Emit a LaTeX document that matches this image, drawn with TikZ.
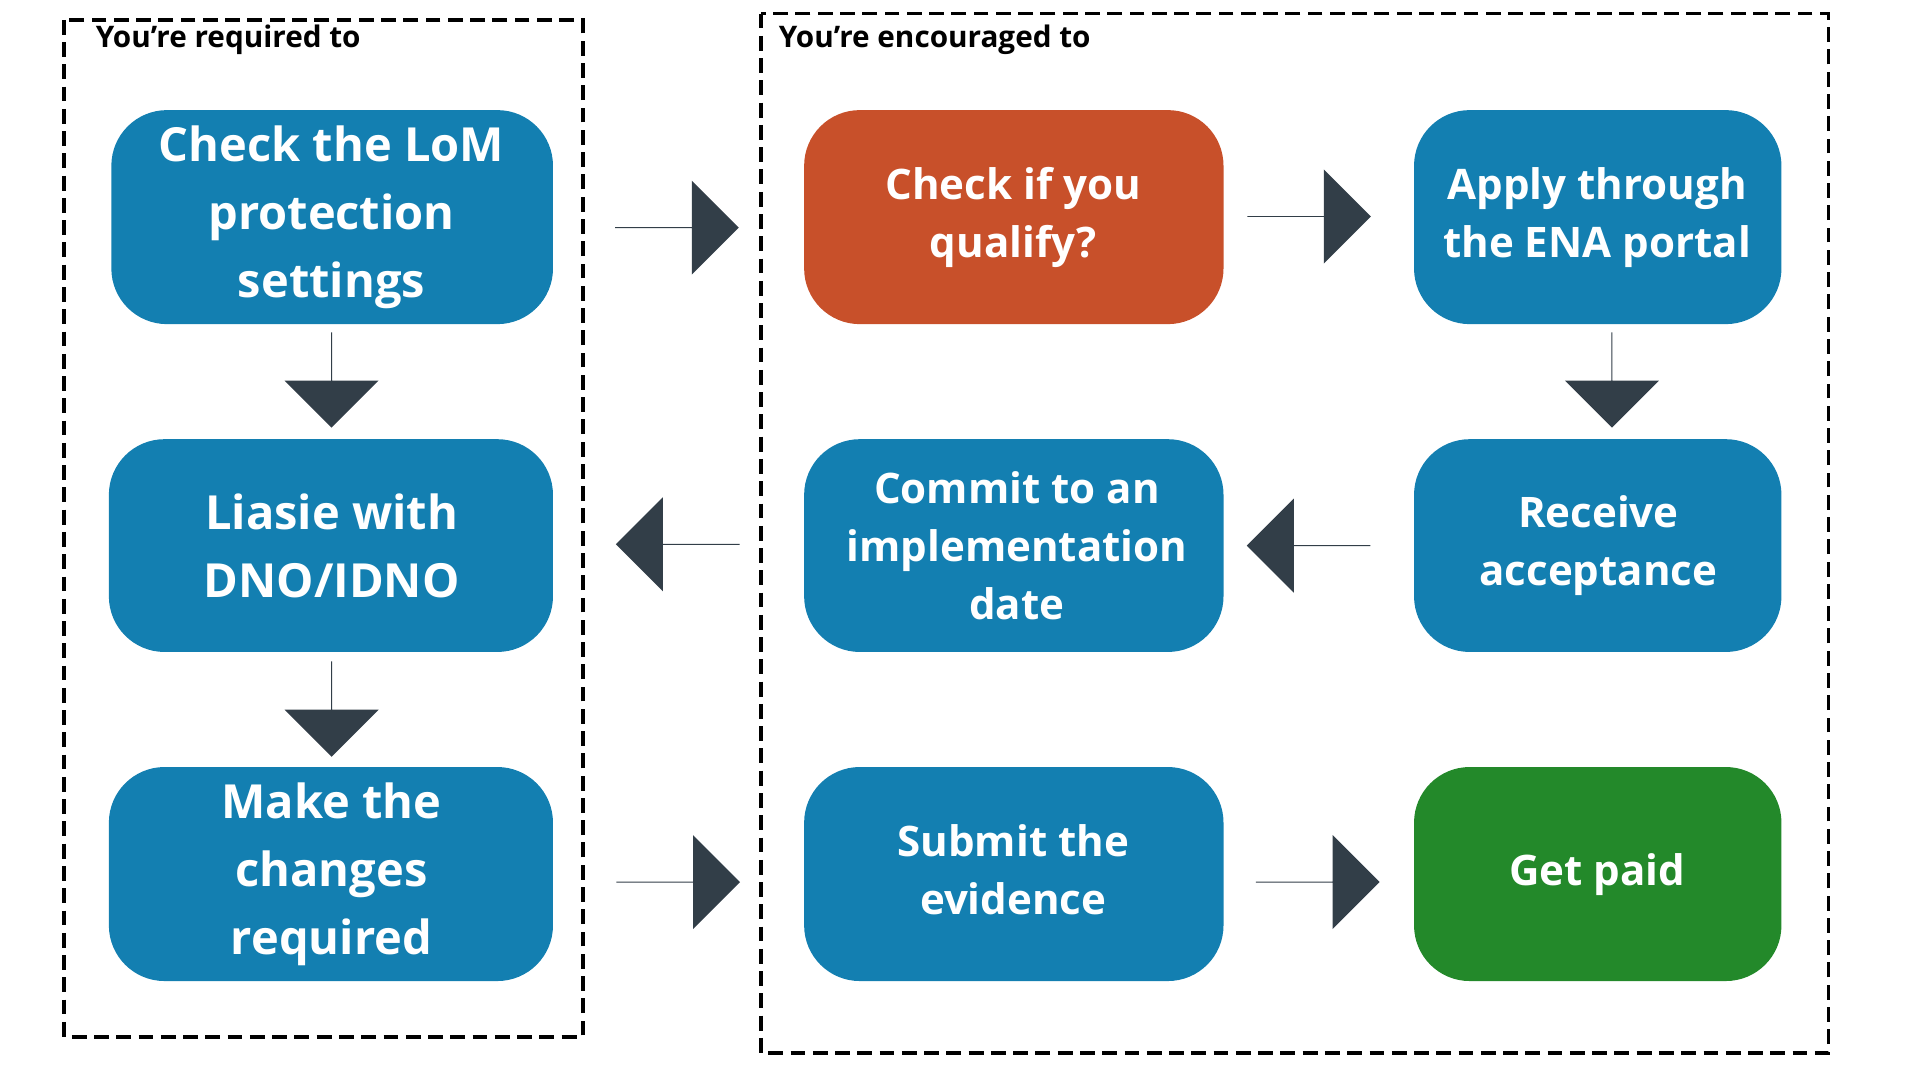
\documentclass[tikz,border=0pt]{standalone}
\usepackage{fontspec}
\setmainfont{Open Sans}
\usetikzlibrary{shapes.arrows}
\definecolor{bblue}{HTML}{137FB1}
\definecolor{borange}{HTML}{C8502A}
\definecolor{bgreen}{HTML}{23892A}
\definecolor{adark}{HTML}{323E48}
\begin{document}
\begin{tikzpicture}[x=1pt,y=-1pt,
  frame/.style={draw=black,line width=3pt,dash pattern=on 12pt off 6pt},
  box/.style={rounded corners=45pt,draw=none},
  lt/.style={text=white,align=center,font=\fontsize{38}{55}\selectfont\bfseries},
  rt/.style={text=white,align=center,font=\fontsize{34}{47}\selectfont\bfseries},
  hdr/.style={anchor=west,font=\fontsize{24}{28}\selectfont\bfseries},
  arr/.style={single arrow,fill=adark,draw=none,inner sep=0pt,minimum width=76pt,
    minimum height=100pt,single arrow head extend=19pt,single arrow tip angle=90}]
\useasboundingbox (0,0) rectangle (1552,873);
\draw[frame] (52,16) rectangle (471,838);
\draw[frame] (615,11) rectangle (1478,851);
\node[hdr] (h1) at (74,32) {You’re required to};
\node[hdr] (h2) at (626,32) {You’re encouraged to};
\fill[box,bblue] (90,89) rectangle (447,262);
\fill[box,bblue] (88,355) rectangle (447,527);
\fill[box,bblue] (88,620) rectangle (447,793);
\fill[box,borange] (650,89) rectangle (989,262);
\fill[box,bblue] (1143,89) rectangle (1440,262);
\fill[box,bblue] (650,355) rectangle (989,527);
\fill[box,bblue] (1143,355) rectangle (1440,527);
\fill[box,bblue] (650,620) rectangle (989,793);
\fill[box,bgreen] (1143,620) rectangle (1440,793);
\node[lt] (l1) at (268,176) {Check the LoM\\protection\\settings};
\node[lt] (l2) at (268,441) {Liasie with\\DNO/IDNO};
\node[lt] (l3) at (268,707) {Make the\\changes\\required};
\node[rt] (q) at (819,176) {Check if you\\qualify?};
\node[rt] (ap) at (1291,176) {Apply through\\the ENA portal};
\node[rt] (cm) at (822,441) {Commit to an\\implementation\\date};
\node[rt] (rc) at (1292,441) {Receive\\acceptance};
\node[rt] (sb) at (819,703) {Submit the\\evidence};
\node[rt] (gp) at (1291,707) {Get paid};
\node[arr] (a1) at (547,184) {};
\node[arr] (a2) at (1058,175) {};
\node[arr] (a3) at (548,713) {};
\node[arr] (a4) at (1065,713) {};
\node[arr,shape border rotate=180] (a5) at (548,440) {};
\node[arr,shape border rotate=180] (a6) at (1058,441) {};
\node[arr,shape border rotate=270,minimum height=77pt] (a7) at (268,307) {};
\node[arr,shape border rotate=270,minimum height=77pt] (a8) at (268,573) {};
\node[arr,shape border rotate=270,minimum height=77pt] (a9) at (1303,307) {};
\end{tikzpicture}
\end{document}
